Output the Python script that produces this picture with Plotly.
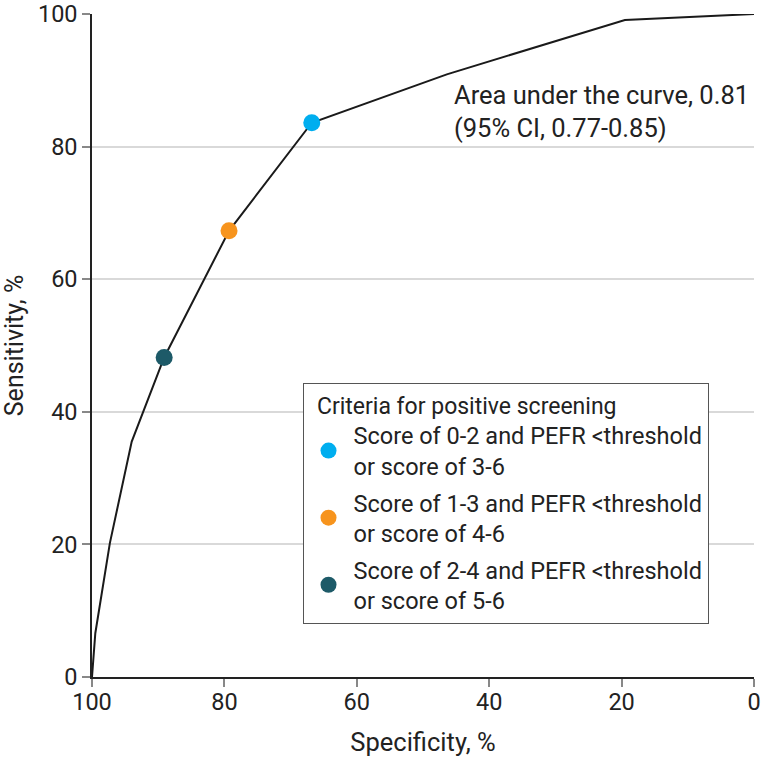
import plotly.graph_objects as go

# ROC curve vertices (specificity %, sensitivity %)
curve_spec = [100, 99.5, 97.3, 94.0, 89.1, 79.3, 66.8, 46.4, 19.5, 0]
curve_sens = [0, 6.6, 20.2, 35.5, 48.2, 67.3, 83.6, 90.9, 99.1, 100]

# Highlighted cut points
point_names = [
    "Score of 0-2 and PEFR <threshold<br>or score of 3-6",
    "Score of 1-3 and PEFR <threshold<br>or score of 4-6",
    "Score of 2-4 and PEFR <threshold<br>or score of 5-6",
]
point_spec = [66.8, 79.3, 89.1]
point_sens = [83.6, 67.3, 48.2]
point_colors = ["#00AEEF", "#F7941D", "#1D5A68"]

tick_vals = [0, 20, 40, 60, 80, 100]

FONT = "Roboto, sans-serif"

fig = go.Figure()
fig.add_trace(go.Scatter(
    x=curve_spec, y=curve_sens, mode="lines",
    line=dict(color="#1a1a1a", width=2), showlegend=False, hoverinfo="skip"))

for i, (name, xs, ys, c) in enumerate(zip(point_names, point_spec, point_sens, point_colors)):
    fig.add_trace(go.Scatter(
        x=[xs], y=[ys], mode="markers", name=name, legendgroup=f"g{i}",
        marker=dict(color=c, size=17)))

fig.add_annotation(
    x=45.6, y=90.4, xref="x", yref="y", xanchor="left", yanchor="top",
    text="Area under the curve, 0.81<br>(95% CI, 0.77-0.85)",
    showarrow=False, align="left",
    font=dict(family=FONT, size=25.5, color="#222"))

fig.update_layout(
    width=765, height=762,
    margin=dict(l=92, r=11, t=14, b=85),
    plot_bgcolor="white", paper_bgcolor="white",
    font=dict(family=FONT, size=23, color="#222"),
    xaxis=dict(
        range=[100, 0], tickvals=tick_vals, showgrid=False, zeroline=False,
        showline=True, linecolor="#222", linewidth=1.5, automargin=False,
        ticks="outside", ticklen=8, tickcolor="#888", tickwidth=1.5,
        ticklabelstandoff=-5,
        title=dict(text="Specificity, %", standoff=18, font=dict(size=25.5)),
        tickfont=dict(size=23.5)),
    yaxis=dict(
        range=[0, 100], tickvals=tick_vals, showgrid=True, gridcolor="#d9d9d9",
        gridwidth=1.5, zeroline=False, automargin=False,
        showline=True, linecolor="#222", linewidth=1.5,
        ticks="outside", ticklen=8, tickcolor="#888", tickwidth=1.5,
        title=dict(text="Sensitivity, %", standoff=8, font=dict(size=25)),
        tickfont=dict(size=23.5)),
    legend=dict(
        x=0.318, y=0.444, xanchor="left", yanchor="top",
        bordercolor="#555", borderwidth=1, bgcolor="white",
        title=dict(text="  Criteria for positive screening", font=dict(size=23)),
        font=dict(size=23.5), itemsizing="trace", itemwidth=40, tracegroupgap=3),
)

fig.write_html("out.html")
